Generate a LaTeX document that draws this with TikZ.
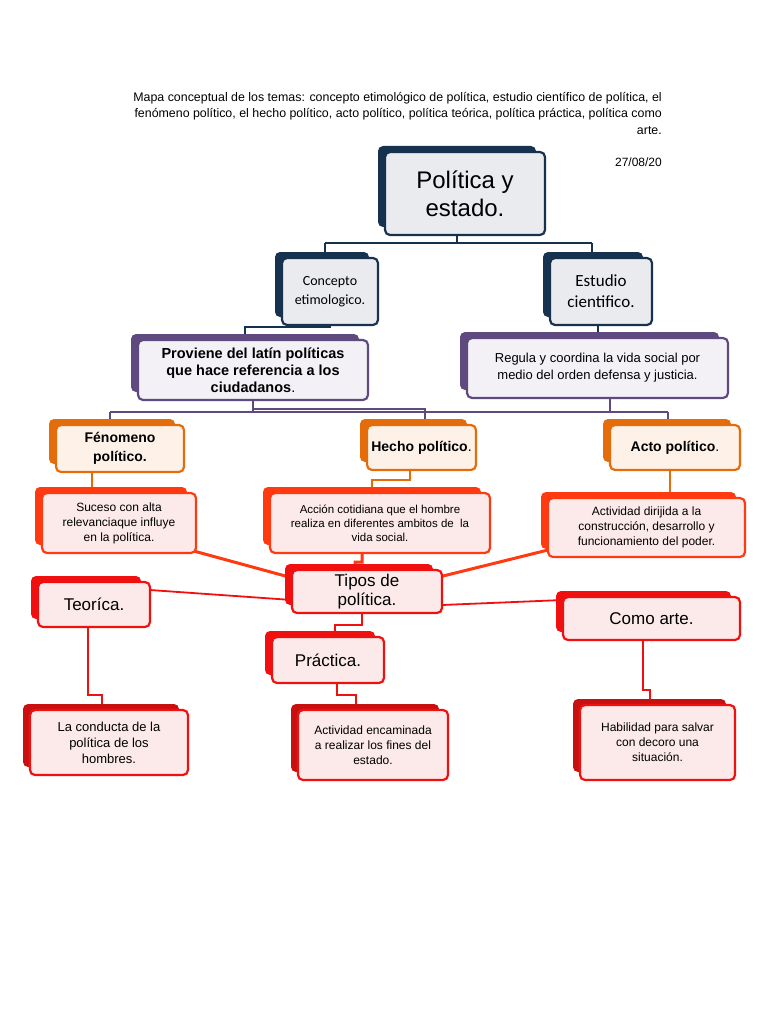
\documentclass[tikz,border=0pt]{standalone}
\usepackage{fontspec}
\setmainfont{Liberation Sans}
\newfontfamily\calfnt{Carlito}
\definecolor{navy}{HTML}{17324F}
\definecolor{purp}{HTML}{5E4A7E}
\definecolor{orng}{HTML}{E46C0A}
\definecolor{rorg}{HTML}{FF3A10}
\definecolor{rred}{HTML}{F01010}
\definecolor{dred}{HTML}{C81010}
\definecolor{fgrey}{HTML}{E9EBEF}
\definecolor{fpur}{HTML}{F3F1F6}
\definecolor{forg}{HTML}{FDF1E8}
\definecolor{fred}{HTML}{FCE9E9}
\newcommand\cbox[9]{%
  \fill[#6,rounded corners=5] (#2-7,#3-6) rectangle (#4-9,#5-8);
  \node[draw=#7,fill=#8,line width=2.2pt,rounded corners=5,align=center,inner sep=0pt,
    minimum width=#4-#2,minimum height=#5-#3] (#1) at ({(#2+#4)/2},{(#3+#5)/2}) {#9};}
\begin{document}
\begin{tikzpicture}[x=1pt,y=-1pt,
  nl/.style={navy,line width=1.2pt},
  pl/.style={purp,line width=1.2pt},
  ol/.style={orng,line width=1.5pt},
  tl/.style={rorg,line width=3pt},
  rl/.style={rred,line width=1.8pt}]
\useasboundingbox (0,0) rectangle (768,1024);
\node[align=right,font=\fontsize{12.4}{16.5}\selectfont,anchor=north east,inner sep=0pt] (hdr) at (662,92)
 {Mapa conceptual de los temas: concepto etimológico de política, estudio científico de política, el\\
 fenómeno político, el hecho político, acto político, política teórica, política práctica, política como\\ arte.};
\node[anchor=east,font=\fontsize{12}{14}\selectfont,inner sep=0pt] (date) at (662,162) {27/08/20};
\draw[nl] (457,235) -- (457,243) (325,243) -- (592,243) (325,243) -- (325,258) (592,243) -- (592,258);
\draw[nl] (330,325) -- (330,327) -- (245,327) -- (245,340);
\draw[nl] (598,325) -- (598,338);
\draw[pl] (253,400) -- (253,412) (110,412) -- (668,412) (110,412) -- (110,425) (253,409)--(425,409)--(425,425) (668,412)--(668,425) (610,398)--(610,412);
\draw[ol] (92,472) -- (92,493) (410,470)--(410,480)--(372,480)--(372,487) (670,470)--(670,494);
\draw[tl] (190,550) -- (300,580) (548,550) -- (435,578) (362,553)--(362,562)--(355,562)--(355,568);
\draw[rl] (150,590) -- (292,600) (442,605) -- (563,600) (362,613)--(362,625)--(335,625)--(335,635)
  (88,627)--(88,695)--(102,695)--(102,710) (337,683)--(337,695)--(356,695)--(356,710)
  (643,640)--(643,690)--(650,690)--(650,705);
\cbox{pol}{385}{152}{545}{235}{navy}{navy}{fgrey,font=\fontsize{24}{28}\selectfont}{Política y\\estado.}
\cbox{con}{282}{258}{378}{325}{navy}{navy}{fgrey,font=\calfnt\fontsize{14}{19}\selectfont}{Concepto\\etimologico.}
\cbox{est}{550}{258}{652}{325}{navy}{navy}{fgrey,font=\calfnt\fontsize{17}{21}\selectfont}{Estudio\\cientifico.}
\cbox{pro}{138}{340}{368}{400}{purp}{purp}{fpur,font=\bfseries\fontsize{14.5}{17}\selectfont}{Proviene del latín políticas\\que hace referencia a los\\ciudadanos\mdseries.}
\cbox{reg}{467}{338}{728}{398}{purp}{purp}{fpur,font=\fontsize{13}{17}\selectfont}{Regula y coordina la vida social por\\medio del orden defensa y justicia.}
\cbox{fen}{56}{425}{184}{472}{orng}{orng}{forg,font=\bfseries\fontsize{14}{19}\selectfont}{Fénomeno\\político.}
\cbox{hec}{367}{425}{476}{470}{orng}{orng}{forg,font=\bfseries\fontsize{14}{17}\selectfont}{Hecho político\mdseries.}
\cbox{act}{610}{425}{740}{470}{orng}{orng}{forg,font=\bfseries\fontsize{14}{17}\selectfont}{Acto político\mdseries.}
\cbox{suc}{42}{493}{196}{553}{rorg}{rorg}{fred,font=\fontsize{12}{15}\selectfont}{Suceso con alta\\relevanciaque influye\\en la política.}
\cbox{acc}{270}{493}{490}{553}{rorg}{rorg}{fred,font=\fontsize{11.5}{14}\selectfont}{Acción cotidiana que el hombre\\realiza en diferentes ambitos de\ \ la\\vida social.}
\cbox{adi}{548}{498}{745}{557}{rorg}{rorg}{fred,font=\fontsize{12}{15}\selectfont}{Actividad dirijida a la\\construcción, desarrollo y\\funcionamiento del poder.}
\cbox{tip}{292}{570}{442}{613}{rred}{rred}{fred,font=\fontsize{17}{19}\selectfont}{Tipos de\\política.}
\cbox{teo}{38}{582}{150}{627}{rred}{rred}{fred,font=\fontsize{17}{20}\selectfont}{Teoríca.}
\cbox{com}{563}{597}{740}{640}{rred}{rred}{fred,font=\fontsize{17}{20}\selectfont}{Como arte.}
\cbox{pra}{272}{637}{384}{683}{rred}{rred}{fred,font=\fontsize{17}{20}\selectfont}{Práctica.}
\cbox{lac}{30}{710}{188}{775}{dred}{rred}{fred,font=\fontsize{13}{16}\selectfont}{La conducta de la\\política de los\\hombres.}
\cbox{aen}{298}{710}{448}{780}{dred}{rred}{fred,font=\fontsize{12}{15}\selectfont}{Actividad encaminada\\a realizar los fines del\\estado.}
\cbox{hab}{580}{705}{735}{780}{dred}{rred}{fred,font=\fontsize{12}{15}\selectfont}{Habilidad para salvar\\con decoro una\\situación.}
\end{tikzpicture}
\end{document}
